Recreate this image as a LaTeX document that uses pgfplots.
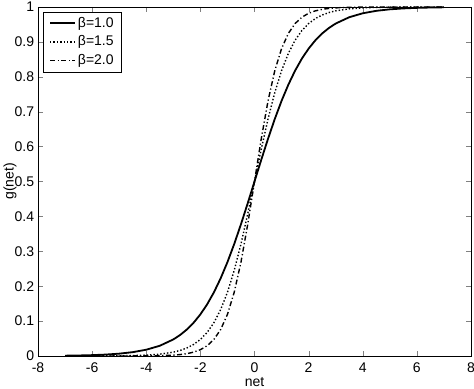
\documentclass[border=0pt]{standalone}
\usepackage{fontspec}
\setmainfont{Liberation Sans}
\usepackage{pgfplots}
\usetikzlibrary{calc}
\pgfplotsset{compat=1.18}
\begin{document}
\fontsize{14}{16}\selectfont
\begin{tikzpicture}
\begin{axis}[
  name=main,
  scale only axis,
  width=433pt, height=349pt,
  xmin=-8, xmax=8, ymin=0, ymax=1,
  xtick={-8,-6,...,8},
  ytick={0,0.1,...,1},
  yticklabels={0,0.1,0.2,0.3,0.4,0.5,0.6,0.7,0.8,0.9,1},
  tick align=inside,
  tick pos=both,
  major tick length=5pt,
  /pgf/number format/assume math mode=true,
  ticklabel style={font=\fontsize{14}{16}\selectfont},
  xticklabel style={yshift=-2pt},
  yticklabel style={xshift=1pt},
  xlabel={net}, ylabel={g(net)},
  label style={font=\fontsize{14}{16}\selectfont},
  xlabel style={at={(axis description cs:0.5,-0.076)}, anchor=center},
  ylabel style={at={(axis description cs:-0.0647,0.5)}, anchor=center},
  axis line style={line width=0.8pt},
  legend cell align=left,
  legend style={draw=black, font=\fontsize{14}{16}\selectfont, at={(axis description cs:0.0115,0.986)}, anchor=north west, row sep=2.5pt, inner xsep=6pt, inner ysep=3pt},
  legend image code/.code={\draw[#1] (0pt,0pt) -- (25pt,0pt);},
]
\addplot[black, line width=1.8pt] coordinates {
(-7,0.000911)(-6.5,0.001501)(-6,0.002473)(-5.5,0.00407)(-5,0.006693)(-4.5,0.01099)(-4,0.01799)(-3.5,0.02931)
(-3,0.04743)(-2.75,0.06009)(-2.5,0.07586)(-2.25,0.09535)(-2,0.1192)(-1.75,0.1480)(-1.5,0.1824)(-1.25,0.2227)
(-1,0.2689)(-0.75,0.3208)(-0.5,0.3775)(-0.25,0.4378)(0,0.5)
(0.25,0.5622)(0.5,0.6225)(0.75,0.6792)(1,0.7311)(1.25,0.7773)(1.5,0.8176)(1.75,0.8520)(2,0.8808)
(2.25,0.90465)(2.5,0.92414)(2.75,0.93991)(3,0.95257)(3.5,0.97069)(4,0.98201)(4.5,0.98901)(5,0.993307)
(5.5,0.99593)(6,0.997527)(6.5,0.998499)(7,0.999089)
};
\addlegendentry{β=1.0}
\addplot[black, line width=1.4pt, dotted] coordinates {
(-7,0.0000275)(-6.5,0.000058)(-6,0.000123)(-5.5,0.000261)(-5,0.000553)(-4.5,0.00117)(-4,0.002473)(-3.5,0.00522)
(-3,0.01099)(-2.75,0.01591)(-2.5,0.02298)(-2.25,0.03309)(-2,0.04743)(-1.75,0.06755)(-1.5,0.09535)(-1.25,0.1330)
(-1,0.1824)(-0.75,0.2451)(-0.5,0.3208)(-0.25,0.4073)(0,0.5)
(0.25,0.5927)(0.5,0.6792)(0.75,0.7549)(1,0.8176)(1.25,0.8670)(1.5,0.90465)(1.75,0.93245)(2,0.95257)
(2.25,0.96691)(2.5,0.97702)(2.75,0.98409)(3,0.98901)(3.5,0.99478)(4,0.997527)(4.5,0.99883)(5,0.999447)
(5.5,0.999739)(6,0.999877)(6.5,0.999942)(7,0.9999725)
};
\addlegendentry{β=1.5}
\addplot[black, line width=1.4pt, dash pattern=on 5pt off 2.5pt on 1.2pt off 2.5pt] coordinates {
(-7,0.0000008)(-6.5,0.0000023)(-6,0.0000061)(-5.5,0.0000167)(-5,0.0000454)(-4.5,0.000123)(-4,0.000335)(-3.5,0.000911)
(-3,0.002473)(-2.75,0.00407)(-2.5,0.006693)(-2.25,0.01099)(-2,0.01799)(-1.75,0.02931)(-1.5,0.04743)(-1.25,0.07586)
(-1,0.1192)(-0.75,0.1824)(-0.5,0.2689)(-0.25,0.3775)(0,0.5)
(0.25,0.6225)(0.5,0.7311)(0.75,0.8176)(1,0.8808)(1.25,0.92414)(1.5,0.95257)(1.75,0.97069)(2,0.98201)
(2.25,0.98901)(2.5,0.993307)(2.75,0.99593)(3,0.997527)(3.5,0.999089)(4,0.999665)(4.5,0.999877)(5,0.9999546)
(5.5,0.9999833)(6,0.9999939)(6.5,0.9999977)(7,0.9999992)
};
\addlegendentry{β=2.0}
\end{axis}
\pgfresetboundingbox
\path ($(main.south west)+(-38pt,-33pt)$) rectangle ($(main.north east)+(3pt,7pt)$);
\end{tikzpicture}
\end{document}
